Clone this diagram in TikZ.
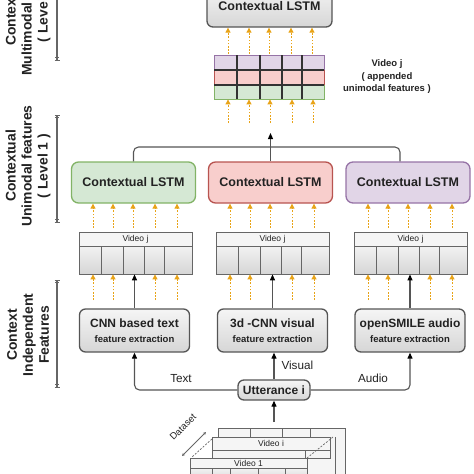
\documentclass[tikz,border=0pt]{standalone}
\usepackage{fontspec}
\setmainfont{Liberation Sans}
\usetikzlibrary{arrows.meta}
\definecolor{grnF}{HTML}{D5E8D4}\definecolor{grnD}{HTML}{82B366}
\definecolor{redF}{HTML}{F8CECC}\definecolor{redD}{HTML}{B85450}
\definecolor{purF}{HTML}{E1D5E7}\definecolor{purD}{HTML}{9673A6}
\definecolor{orA}{HTML}{E8A317}
\definecolor{bordG}{HTML}{555555}
\definecolor{lineG}{HTML}{666666}
\definecolor{hdG}{HTML}{F5F5F5}
\definecolor{clTop}{HTML}{F2F2F2}
\definecolor{clBot}{HTML}{D6D6D6}
\definecolor{txtD}{HTML}{222222}
\tikzset{
  graybox/.style={draw=bordG, line width=1.3pt, rounded corners=6pt, top color=hdG, bottom color=clBot, align=center, inner sep=0pt, text=txtD},
  lstm/.style={rounded corners=7pt, line width=1.3pt, minimum width=124pt, minimum height=41pt, inner sep=0pt, text=txtD, font=\bfseries\fontsize{12.5}{14}\selectfont},
  exbox/.style={graybox, minimum width=110pt, minimum height=43pt, font=\bfseries\fontsize{9.5}{15}\selectfont},
  oarrow/.style={draw=orA, line width=0.9pt, dash pattern=on 1.6pt off 1.6pt, -{Triangle[width=5pt,length=5pt]}},
  barrow/.style={draw=bordG, line width=1.1pt, rounded corners=5pt, -{Triangle[width=5pt,length=6pt,color=black]}},
  conn/.style={draw=bordG, line width=1.1pt, rounded corners=5pt},
  lbl/.style={rotate=90, align=center, text=txtD, font=\bfseries\fontsize{13.9}{16}\selectfont},
  bar/.style={draw=lineG, line width=1.1pt},
  vhead/.style={draw=lineG, line width=0.8pt, fill=hdG, inner sep=0pt, minimum width=113pt, minimum height=14pt, text=txtD, font=\fontsize{8.5}{9}\selectfont},
  vcell/.style={draw=lineG, line width=0.8pt, top color=clTop, bottom color=clBot, inner sep=0pt, minimum width=113pt, minimum height=28pt},
  vdiv/.style={draw=lineG, line width=0.8pt},
  gdiv/.style={draw=black!80, line width=1.2pt},
  elab/.style={text=txtD, font=\fontsize{11.7}{13}\selectfont},
  row/.style={line width=0.8pt, inner sep=0pt, minimum width=110pt}
}
\begin{document}
\begin{tikzpicture}[x=1pt,y=-1pt]
\useasboundingbox (0,0) rectangle (474,474);
\clip (0,0) rectangle (474,474);

% ---- left labels and bars
\node[lbl] (labL2) at (28,10) {Contextual\\Multimodal features\\( Level 2 )};
\node[lbl] (labL1) at (28,166) {Contextual\\Unimodal features\\( Level 1 )};
\node[lbl] (labL0) at (28,335) {Context\\Independent\\Features};
\foreach \a/\b in {-10/60, 115/222, 280/387} {
  \draw[bar] (57,\a) -- (57,\b);
  \draw[lineG, line width=0.8pt] (54.5,\a) -- (59.5,\a) (55,\a+2.5) -- (59,\a+2.5);
  \draw[lineG, line width=0.8pt] (54.5,\b) -- (59.5,\b) (55,\b-2.5) -- (59,\b-2.5);
}

% ---- top LSTM (level 2)
\node[graybox, minimum width=125pt, minimum height=41pt, font=\bfseries\fontsize{12.5}{14}\selectfont] (top) at (269.5,6.5) {Contextual LSTM};

% ---- appended grid
\node[row, draw=purD, fill=purF, minimum height=15pt] (rowP) at (269,62.5) {};
\node[row, draw=redD, fill=redF, minimum height=15pt] (rowR) at (269,77.5) {};
\node[row, draw=grnD, fill=grnF, minimum height=14pt] (rowG) at (269,92) {};
\draw[gdiv] (214,70) -- (324,70) (214,85) -- (324,85);
\foreach \x in {237,260,282,302} \draw[gdiv] (\x,55) -- (\x,99);
\foreach \x in {228,249,269,291,312} \draw[oarrow] (\x,54) -- (top.south -| \x,0);
\foreach \x in {228,249,270,292,313} \draw[oarrow] (\x,123) -- (rowG.south -| \x,0);
\node[align=center, text=txtD, font=\bfseries\fontsize{9.5}{12.5}\selectfont] (vjlab) at (387,77) {Video j\\( appended\\unimodal features )};

% ---- level 1 LSTMs
\node[lstm, draw=grnD, fill=grnF] (lstmG) at (133.5,182.5) {Contextual LSTM};
\node[lstm, draw=redD, fill=redF] (lstmR) at (270.5,182.5) {Contextual LSTM};
\node[lstm, draw=purD, fill=purF] (lstmP) at (408,182.5) {Contextual LSTM};
\coordinate (join) at (270.5,147);
\coordinate (jtip) at (270.5,133);
\draw[conn] (lstmG.north) |- (join);
\draw[conn] (lstmP.north -| 400,0) |- (join);
\draw[barrow] (lstmR.north) -- (jtip);

% ---- feature extraction boxes
\node[exbox] (exG) at (134.5,330.5) {{\fontsize{12}{14}\selectfont CNN based text}\\feature extraction};
\node[exbox] (exR) at (272.5,330.5) {{\fontsize{12}{14}\selectfont 3d -CNN visual}\\feature extraction};
\node[exbox] (exP) at (410,330.5) {{\fontsize{12}{14}\selectfont openSMILE audio}\\feature extraction};

% ---- video j blocks
\foreach \n/\lx in {G/79, R/216, P/354} {
  \node[vhead] (vh\n) at (\lx+56.5,239) {Video j};
  \node[vcell] (vc\n) at (\lx+56.5,260) {};
  \foreach \d in {22,44,65,85} \draw[vdiv] (\lx+\d,246) -- (\lx+\d,274);
  \foreach \d in {14,34,54,76,98} \draw[oarrow] (\lx+\d,228) -- (lstm\n.south -| \lx+\d,0);
  \foreach \d in {14,34,76,98} \draw[oarrow] (\lx+\d,300) -- (vc\n.south -| \lx+\d,0);
  \draw[barrow] (ex\n.north) -- (vc\n.south -| ex\n.north);
}

% ---- utterance
\node[graybox, minimum width=72pt, minimum height=20pt, font=\bfseries\fontsize{12}{14}\selectfont] (utt) at (274,390) {Utterance i};
\draw[barrow] (utt.west) -| (exG.south);
\draw[barrow] (utt.north) -- (exR.south -| utt.north);
\draw[barrow] (utt.east) -| (exP.south);
\node[elab] (tText) at (181,379) {Text};
\node[elab, anchor=west] (tVis) at (278,365) {Visual};
\node[elab] (tAud) at (373,378) {Audio};

% ---- dataset stack
\node[draw=lineG, line width=0.8pt, fill=hdG, inner sep=0pt, minimum width=127pt, minimum height=54pt] (dsBack) at (281.5,455) {};
\foreach \x in {250,282,310} \draw[vdiv] (\x,428) -- (\x,437);
\draw[vdiv] (335,437) -- (335,482);
\node[vhead, minimum width=118pt, minimum height=13pt] (dsVi) at (271,443.5) {Video i};
\node[vhead, minimum width=118pt, minimum height=8pt] (dsMid) at (271,454) {};
\draw[vdiv] (305,450) -- (305,458);
\draw[lineG, line width=0.7pt, dash pattern=on 2pt off 1.5pt] (333,437) -- (307,458);
\node[vhead, minimum width=117pt, minimum height=10pt] (dsV1) at (248.5,463) {Video 1};
\node[vcell, minimum width=117pt, minimum height=14pt] (dsCells) at (248.5,475) {};
\foreach \x in {212,230,258,285} \draw[vdiv] (\x,468) -- (\x,482);
\draw[lineG, line width=0.7pt, dash pattern=on 2pt off 1.5pt] (212,439) -- (192,457);
\node[rotate=45, text=txtD, inner sep=0pt, font=\fontsize{9.5}{10}\selectfont] (dsLab) at (183,427) {Dataset};
\coordinate (dsA) at (182,456);
\coordinate (dsB) at (206,432);
\draw[lineG, line width=0.8pt, {Stealth[length=3pt,width=3pt]}-{Stealth[length=3pt,width=3pt]}] (dsA) -- (dsB);
\coordinate (dsTop) at (274,422);
\draw[barrow] (dsTop) -- (utt.south);
\end{tikzpicture}
\end{document}
